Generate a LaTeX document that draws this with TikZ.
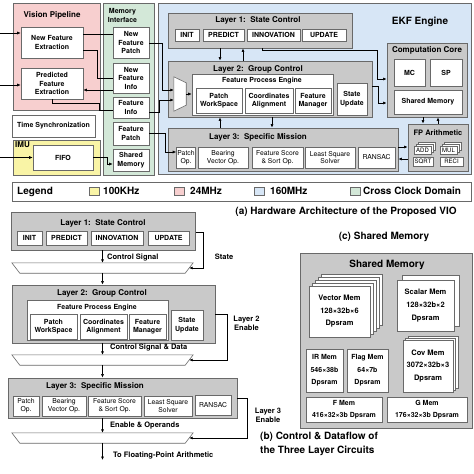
\documentclass[tikz,border=0pt]{standalone}
\usepackage{fontspec}
\setmainfont{TeX Gyre Heros}
\usetikzlibrary{arrows.meta}
\definecolor{clkA}{RGB}{249,244,166}
\definecolor{clkB}{RGB}{247,207,207}
\definecolor{clkC}{RGB}{215,230,246}
\definecolor{clkX}{RGB}{211,232,216}
\definecolor{layerfill}{RGB}{201,201,201}
\definecolor{edge}{RGB}{105,105,105}

\newcommand{\bxfont}{\bfseries\fontsize{7}{8.5}\selectfont}
\newcommand{\opfont}{\fontsize{6.8}{7.8}\selectfont}
\newcommand{\fpfont}{\fontsize{6}{7}\selectfont}
\newcommand{\ttlfont}{\bfseries\fontsize{8}{9.5}\selectfont}
\newcommand{\lblfont}{\bfseries\fontsize{7.5}{9}\selectfont}
\newcommand{\capfont}{\bfseries\fontsize{10}{13.5}\selectfont}
\newcommand{\memfont}{\bfseries\fontsize{7}{12.5}\selectfont}

\begin{document}
\begin{tikzpicture}[x=1pt,y=-1pt,
    wh/.style 2 args={minimum width=#1pt,minimum height=#2pt},
    region/.style={draw=edge,line width=0.8pt,inner sep=0pt},
    lyr/.style={region,fill=layerfill},
    wbox/.style={draw=edge,fill=white,line width=0.6pt,inner sep=0pt,align=center,font=\bxfont},
    opbox/.style={wbox,font=\opfont},
    fpbox/.style={wbox,font=\fpfont},
    membox/.style={wbox,font=\memfont},
    stackline/.style={draw=edge,fill=white,line width=0.6pt},
    swatch/.style={draw=edge,line width=0.6pt,wh={10}{8},inner sep=0pt},
    ttl/.style={font=\ttlfont,inner sep=0pt,align=center},
    lbl/.style={font=\lblfont,inner sep=0pt},
    captxt/.style={font=\capfont,inner sep=0pt},
    decshape/.style={draw=edge,fill=white,line width=0.6pt},
    wire/.style={line width=0.6pt},
    arr/.style={wire,-{Latex[length=3.5pt,width=3pt]}}]

    \useasboundingbox (0,0) rectangle (474,474);

    % draw clock regions
    \node[region,fill=clkB,wh={87}{107}] (vp) at (56.5,56.5) {};
    \node[ttl] (vptitle) at (52,15) {Vision Pipeline};
    \node[region,fill=clkA,wh={87}{35}] (imu) at (56.5,157.5) {};
    \node[ttl,anchor=north west] (imutitle) at (15,141.5) {IMU};
    \node[wbox,wh={83}{22}] (ts) at (53.5,126) {Time Synchronization};
    \node[region,fill=clkX,wh={51}{172}] (mi) at (128.5,89) {};
    \node[ttl,font=\bfseries\fontsize{7}{9}\selectfont] (mititle) at (122.5,15) {Memory\\Interface};
    \node[region,fill=clkC,wh={313}{171}] (ekf) at (314.5,88.5) {};
    \node[captxt] (ekftitle) at (420,22) {EKF Engine};

    % draw vision pipeline and memory interface
    \node[wbox,wh={62}{31}] (nfe) at (52,42.5) {New Feature\\Extraction};
    \node[wbox,wh={62}{31}] (pfe) at (52,83.5) {Predicted\\Feature\\Extraction};
    \node[wbox,wh={60}{25}] (fifo) at (63,157.5) {FIFO};
    \node[wbox,wh={36}{31}] (nfp) at (131,42.5) {New\\Feature\\Patch};
    \node[wbox,wh={36}{30}] (nfi) at (131,78) {New\\Feature\\Info};
    \node[wbox,wh={36}{21}] (fi) at (131,107.5) {Feature\\Info};
    \node[wbox,wh={36}{23}] (fp) at (131,133.5) {Feature\\Patch};
    \node[wbox,wh={36}{22}] (sm) at (131,160) {Shared\\Memory};

    % draw layer 1
    \node[lyr,wh={184}{35}] (l1) at (260,30.5) {};
    \node[ttl] at (258,20) {Layer 1:\ \ State Control};
    \node[wbox,wh={24}{12}] (init) at (187,35) {INIT};
    \node[wbox,wh={41}{12}] (predict) at (223.5,35) {PREDICT};
    \node[wbox,wh={53}{12}] (innov) at (273.5,35) {INNOVATION};
    \node[wbox,wh={44}{12}] (update) at (324,35) {UPDATE};

    % draw layer 2
    \node[lyr,wh={204}{56}] (l2) at (270,89) {};
    \node[ttl] at (258,69) {Layer 2:\ \ Group Control};
    \node[inner sep=0pt,wh={12}{34}] (mux) at (180,94) {};
    \draw[decshape] (mux.north west) -- ([yshift=-6pt]mux.north east) -- ([yshift=6pt]mux.south east) -- (mux.south west) -- cycle;
    \node[wbox,wh={141}{41}] (fpe) at (262.5,94.5) {};
    \node[font=\bxfont,inner sep=0pt] at (262,81) {Feature Process Engine};
    \node[wbox,wh={46}{25}] (pws) at (219,100.5) {Patch\\WorkSpace};
    \node[wbox,wh={48}{25}] (ca) at (269,100.5) {Coordinates\\Alignment};
    \node[wbox,wh={36}{25}] (fm) at (313,100.5) {Feature\\Manager};
    \node[wbox,wh={30}{32}] (su) at (352,99) {State\\Update};

    % draw layer 3
    \node[lyr,wh={230}{43}] (l3) at (283,149.5) {};
    \node[ttl] at (258,137) {Layer 3:\ \ Specific Mission};
    \node[opbox,wh={19}{21}] (pop) at (186,157.5) {Patch\\Op.};
    \node[opbox,wh={50}{21}] (bvo) at (223,157.5) {Bearing\\Vector Op.};
    \node[opbox,wh={51}{21}] (fss) at (277.5,157.5) {Feature Score\\\& Sort Op.};
    \node[opbox,wh={50}{21}] (lss) at (330,157.5) {Least Square\\Solver};
    \node[opbox,wh={37}{21}] (ransac) at (376.5,157.5) {RANSAC};

    % draw computation core and fp arithmetic
    \node[lyr,wh={80}{74}] (cc) at (427,80) {};
    \node[ttl] at (427,50) {Computation Core};
    \node[wbox,wh={31}{27}] (mc) at (409.5,72.5) {MC};
    \node[wbox,wh={32}{27}] (sp) at (446,72.5) {SP};
    \node[wbox,wh={68}{24}] (csm) at (428,102) {Shared Memory};
    \node[lyr,wh={60}{47}] (fpa) at (438,147.5) {};
    \node[ttl,font=\bfseries\fontsize{7.5}{9}\selectfont] at (438,133) {FP Arithmetic};
    \foreach \s in {4,2} {
        \draw[stackline] (414+\s,146-\s) rectangle (431+\s,154-\s);
        \draw[stackline] (440+\s,146-\s) rectangle (457+\s,154-\s);
    }
    \node[fpbox,wh={17}{8}] (add) at (422.5,150) {ADD};
    \node[fpbox,wh={17}{8}] (mul) at (448.5,150) {MUL};
    \node[fpbox,wh={20}{9}] (sqrt) at (423,161.5) {SQRT};
    \node[fpbox,wh={23}{9}] (reci) at (451.5,161.5) {RECI};

    % draw data paths of (a)
    \coordinate (in1) at (0,33);
    \coordinate (in2) at (0,85);
    \coordinate (in3) at (0,157.5);
    \draw[arr] (in1) -- (in1 -| nfe.west);
    \draw[arr] (in2) -- (in2 -| pfe.west);
    \draw[arr] (in3) -- (fifo.west);
    \draw[wire] (nfe.east |- 0,34) -- (nfp.west |- 0,34);
    \draw[wire] (nfe.east |- 0,50) -- (97,50) |- (nfi.west);
    \draw[arr] (nfi.west |- 0,90) -- (pfe.east |- 0,90);
    \draw[wire] (pfe.south) -- (52,103) -| (99,110) -- (fi.west |- 0,110);
    \draw[arr] (fifo.east) -- (107,157.5) |- (sm.west |- 0,164);
    \draw[arr] (nfp.east |- 0,43) -- (162,43) |- (mux.west |- 0,90);
    \draw[arr] (fi.east |- 0,112) -- (159,112) |- (mux.west |- 0,100);
    \draw[arr] (fp.east) -- (165,133.5) |- (pop.west |- 0,152);
    \draw[arr] (mux.east) -- (mux.east -| fpe.west);
    \draw[arr] (l1.south -| 220,0) -- (l2.north -| 220,0);
    \draw[arr] (l2.north -| 243,0) -- (l1.south -| 243,0);
    \draw[arr] (l3.north -| 220,0) -- (l2.south -| 220,0);
    \draw[arr] (l2.south -| 272,0) -- (l3.north -| 272,0);
    \draw[arr] (l1.south -| 262,0) |- (377,50) |- (cc.west |- 0,79);
    \draw[arr] (l2.east |- 0,86) -- (378,86) |- (cc.west |- 0,103);
    \draw[arr] (l3.east |- 0,147) -- (fpa.west |- 0,147);
    \draw[arr] (fpa.west |- 0,159) -- (l3.east |- 0,159);
    \draw[arr] (cc.south -| 423,0) -- (fpa.north -| 423,0);
    \draw[arr] (fpa.north -| 438,0) -- (cc.south -| 438,0);

    % draw legend
    \node[region,fill=white,wh={459}{19}] (legend) at (241.5,191.5) {};
    \node[captxt,anchor=west] at (17,192) {Legend};
    \node[swatch,fill=clkA] (swA) at (94,191) {};
    \node[captxt,anchor=west] at (103,191) {100KHz};
    \node[swatch,fill=clkB] (swB) at (179.5,191) {};
    \node[captxt,anchor=west] at (190,191) {24MHz};
    \node[swatch,fill=clkC] (swC) at (259,191) {};
    \node[captxt,anchor=west] at (270,191) {160MHz};
    \node[swatch,fill=clkX] (swX) at (355,191) {};
    \node[captxt,anchor=west] at (363,191) {Cross Clock Domain};

    % draw captions
    \node[captxt] at (346,212) {(a) Hardware Architecture of the Proposed VIO};
    \node[captxt] at (384,237) {(c) Shared Memory};
    \node[captxt,align=left,anchor=west] at (260,444) {(b) Control \& Dataflow of\\the Three Layer Circuits};

    % draw (b) layer 1
    \node[lyr,wh={184}{38}] (bl1) at (103.5,231) {};
    \node[ttl] at (103,223) {Layer 1:\ \ State Control};
    \node[wbox,wh={25}{14}] (binit) at (29.5,238) {INIT};
    \node[wbox,wh={41}{14}] (bpredict) at (66.5,238) {PREDICT};
    \node[wbox,wh={52}{14}] (binnov) at (117,238) {INNOVATION};
    \node[wbox,wh={41}{14}] (bupdate) at (168.5,238) {UPDATE};
    \node[inner sep=0pt,wh={181}{10}] (dec1) at (102.5,268) {};
    \draw[decshape] (dec1.north west) -- (dec1.north east) -- ([xshift=-8pt]dec1.south east) -- ([xshift=8pt]dec1.south west) -- cycle;
    \draw[arr] (bl1.south -| dec1.north) -- (dec1.north);
    \node[lbl,anchor=west] at (107,258) {Control Signal};
    \draw[arr] (bl1.east |- 0,232) -- (203,232) |- ([xshift=-4pt]dec1.east);
    \node[lbl] at (224,257) {State};

    % draw (b) layer 2
    \node[lyr,wh={203}{58}] (bl2) at (113.5,314) {};
    \draw[arr] (dec1.south) -- (dec1.south |- bl2.north);
    \node[ttl] at (102,293) {Layer 2:\ \ Group Control};
    \node[wbox,wh={141}{40}] (bfpe) at (97.5,320) {};
    \node[font=\bxfont,inner sep=0pt] at (97,308) {Feature Process Engine};
    \node[wbox,wh={47}{25}] (bpws) at (53.5,326.5) {Patch\\WorkSpace};
    \node[wbox,wh={47}{25}] (bca) at (103.5,326.5) {Coordinates\\Alignment};
    \node[wbox,wh={37}{25}] (bfm) at (147.5,326.5) {Feature\\Manager};
    \node[wbox,wh={32}{30}] (bsu) at (187,325) {State\\Update};
    \node[inner sep=0pt,wh={181}{10}] (dec2) at (102.5,360) {};
    \draw[decshape] (dec2.north west) -- (dec2.north east) -- ([xshift=-8pt]dec2.south east) -- ([xshift=8pt]dec2.south west) -- cycle;
    \draw[arr] (bl2.south -| dec2.north) -- (dec2.north);
    \node[lbl,anchor=west] at (110,348) {Control Signal \& Data};
    \draw[arr] (bl2.east |- 0,314) -- (227,314) |- ([xshift=-4pt]dec2.east);
    \node[lbl,align=center] at (246.5,323.5) {Layer 2\\Enable};

    % draw (b) layer 3
    \node[lyr,wh={229}{40}] (bl3) at (122.5,398) {};
    \draw[arr] (dec2.south) -- (dec2.south |- bl3.north);
    \node[ttl] at (95,386) {Layer 3:\ \ Specific Mission};
    \node[opbox,wh={26}{20}] (bpop) at (26,406) {Patch\\Op.};
    \node[opbox,wh={44}{20}] (bbvo) at (64,406) {Bearing\\Vector Op.};
    \node[opbox,wh={53}{20}] (bfss) at (114.5,406) {Feature Score\\\& Sort Op.};
    \node[opbox,wh={48}{20}] (blss) at (168,406) {Least Square\\Solver};
    \node[opbox,wh={36}{20}] (bransac) at (213,405) {RANSAC};
    \node[inner sep=0pt,wh={181}{10}] (dec3) at (102.5,438) {};
    \draw[decshape] (dec3.north west) -- (dec3.north east) -- ([xshift=-8pt]dec3.south east) -- ([xshift=8pt]dec3.south west) -- cycle;
    \draw[arr] (bl3.south -| dec3.north) -- (dec3.north);
    \node[lbl,anchor=west] at (110,426) {Enable \& Operands};
    \draw[arr] (bl3.east |- 0,398) -- (247,398) |- ([xshift=-4pt]dec3.east);
    \node[lbl,align=center] at (268,415.5) {Layer 3\\Enable};
    \coordinate (tofp) at (102.5,460);
    \draw[arr] (dec3.south) -- (tofp);
    \node[lbl,anchor=west] at (113,456) {To Floating-Point Arithmetic};

    % draw (c) shared memory
    \node[lyr,wh={172}{175}] (smem) at (386,340.5) {};
    \node[captxt] at (387,265) {Shared Memory};
    \foreach \s in {12,9,6,3}
        \draw[stackline] (309+\s,286-\s) rectangle (370+\s,337-\s);
    \node[membox,font=\bfseries\fontsize{7.5}{12.5}\selectfont,wh={61}{51}] (vm) at (339.5,311.5) {Vector Mem\\128×32b×6\\Dpsram};
    \draw[stackline] (402,275) rectangle (459,326);
    \node[membox,font=\bfseries\fontsize{7.5}{13}\selectfont,wh={57}{51}] (scm) at (425.5,305.5) {Scalar Mem\\128×32b×2\\Dpsram};
    \foreach \s in {5,2.5}
        \draw[stackline] (403+\s,340-0.8*\s) rectangle (453+\s,392-0.8*\s);
    \node[membox,font=\bfseries\fontsize{7.5}{12.5}\selectfont,wh={50}{52}] (cvm) at (428,366) {Cov Mem\\3072×32b×3\\Dpsram};
    \node[membox,wh={37}{43}] (irm) at (324.5,370.5) {IR Mem\\546×38b\\Dpsram};
    \node[membox,wh={41}{43}] (flm) at (367.5,370.5) {Flag Mem\\64×7b\\Dpsram};
    \node[membox,wh={76}{25}] (fmem) at (344,409.5) {F Mem\\416×32×3b Dpsram};
    \node[membox,wh={80}{25}] (gmem) at (427,409.5) {G Mem\\176×32×3b Dpsram};
\end{tikzpicture}
\end{document}
